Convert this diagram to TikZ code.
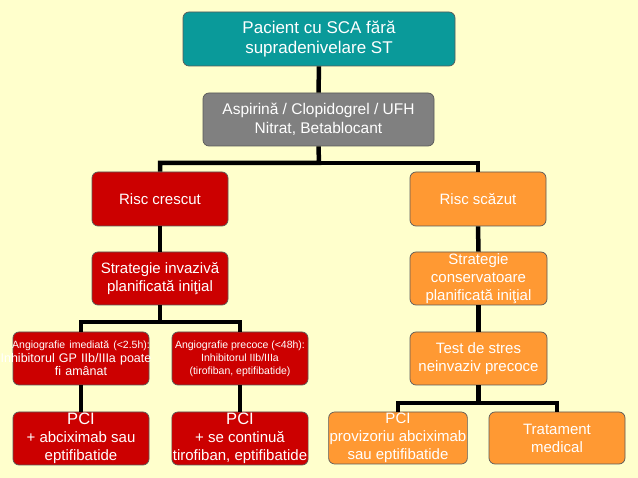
\documentclass[tikz,border=0pt]{standalone}
\usepackage{fontspec}
\setmainfont{Liberation Sans}
\definecolor{bgc}{HTML}{FFFFCC}
\definecolor{cteal}{HTML}{0A9A9A}
\definecolor{cgray}{HTML}{808080}
\definecolor{cred}{HTML}{CC0000}
\definecolor{corange}{HTML}{FF9933}
\tikzset{
  box/.style={draw=black!65, line width=0.7pt, rounded corners=6pt, text=white,
    align=center, inner sep=1pt, minimum width=136pt, minimum height=53pt,
    font=\fontsize{15}{18}\selectfont},
  conn/.style={line width=4.5pt, black, line join=miter}
}
\begin{document}
\begin{tikzpicture}[x=1pt,y=-1pt]
\fill[bgc] (0,0) rectangle (638,478);
\useasboundingbox (0,0) rectangle (638,478);
% coordinates of the split bars
\coordinate (s1) at (319,163);
\coordinate (s2) at (160,322);
\coordinate (s3) at (478.5,403);
% nodes
\node[box, fill=cteal, minimum width=272pt, minimum height=54pt, font=\fontsize{17}{20}\selectfont] (top) at (319,39) {Pacient cu SCA fără\\supradenivelare ST};
\node[box, fill=cgray, minimum width=231pt, font=\fontsize{15.5}{18.5}\selectfont] (med) at (318.5,119.5) {Aspirină / Clopidogrel / UFH\\Nitrat, Betablocant};
\node[box, fill=cred, minimum height=54pt] (rc) at (160,199) {Risc crescut};
\node[box, fill=corange, minimum height=54pt] (rs) at (478,199) {Risc scăzut};
\node[box, fill=cred] (si) at (160,278.5) {Strategie invazivă\\planificată iniţial};
\node[box, fill=corange, minimum width=137pt] (sc) at (478.5,278.5) {Strategie\\conservatoare\\planificată iniţial};
\node[box, fill=cred, font=\fontsize{12.5}{13.5}\selectfont, text width=130pt] (ai) at (81,358.5) {\makebox[130pt][c]{\fontsize{10.5}{13}\selectfont Angiografie imediată (<2.5h):}\\\makebox[130pt][c]{\hspace*{-10pt}Inhibitorul GP IIb/IIIa poate}\\fi amânat};
\node[box, fill=cred, font=\fontsize{10.5}{13}\selectfont] (ap) at (240,358.5) {Angiografie precoce (<48h):\\Inhibitorul IIb/IIIa\\(tirofiban, eptifibatide)};
\node[box, fill=corange, minimum width=137pt] (ts) at (478.5,358.5) {Test de stres\\neinvaziv precoce};
\node[box, fill=cred] (p1) at (81,438.5) {{\fontsize{16.5}{18}\selectfont PCI}\\+ abciximab sau\\eptifibatide};
\node[box, fill=cred] (p2) at (240,438.5) {{\fontsize{16.5}{18}\selectfont PCI}\\+ se continuă\\tirofiban, eptifibatide};
\node[box, fill=corange, minimum width=138pt, minimum height=52pt] (pp) at (398,438) {PCI\\provizoriu abciximab\\sau eptifibatide};
\node[box, fill=corange, minimum height=52pt] (tm) at (557,438) {Tratament\\medical};
% connectors
\draw[conn] (top.south) -- (med.north);
\draw[conn] (med.south) -- (s1) -| (rc.north);
\draw[conn] (s1) -| (rs.north);
\draw[conn] (rc.south) -- (si.north);
\draw[conn] (rs.south) -- (sc.north);
\draw[conn] (si.south) -- (s2) -| (ai.north);
\draw[conn] (s2) -| (ap.north);
\draw[conn] (sc.south) -- (ts.north);
\draw[conn] (ts.south) -- (s3) -| (pp.north);
\draw[conn] (s3) -| (tm.north);
\draw[conn] (ai.south) -- (p1.north);
\draw[conn] (ap.south) -- (p2.north);
\end{tikzpicture}
\end{document}
